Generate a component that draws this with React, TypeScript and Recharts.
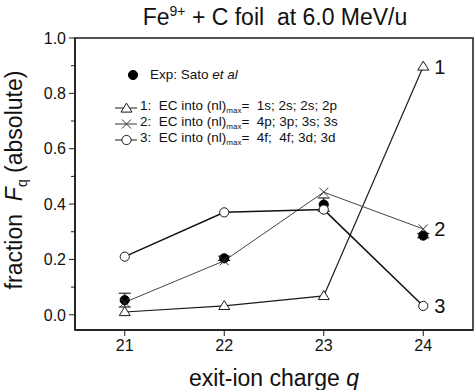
import React from 'react';
import {
  ComposedChart,
  Line,
  Scatter,
  XAxis,
  YAxis,
  ErrorBar,
  ReferenceArea,
  LabelList,
  Legend,
} from 'recharts';

const charges = [21, 22, 23, 24];
const ec1 = [0.01, 0.032, 0.068, 0.897];
const ec2 = [0.045, 0.195, 0.443, 0.31];
const ec3 = [0.21, 0.37, 0.38, 0.032];
const expValues = [0.053, 0.204, 0.398, 0.286];
const expErrors = [0.025, 0.008, 0.024, 0.008];
const xTicks = [21, 22, 23, 24];
const yTicks = [0, 0.1, 0.2, 0.3, 0.4, 0.5, 0.6, 0.7, 0.8, 0.9, 1.0];
const curveLabels = ['1', '2', '3'];
const legendRows = [
  { id: '1', states: '1s; 2s; 2s; 2p' },
  { id: '2', states: '4p; 3p; 3s; 3s' },
  { id: '3', states: '4f;  4f; 3d; 3d' },
];

const data = charges.map((q, i) => ({
  q,
  ec1: ec1[i],
  ec2: ec2[i],
  ec3: ec3[i],
  exp: expValues[i],
  err: expErrors[i],
}));

const FONT = '"Liberation Sans", Arial, Helvetica, sans-serif';
const INK = '#1a1a1a';

const Triangle = ({ cx, cy }: any) => {
  if (cx == null || cy == null) return null;
  const h = 9;
  const w = 11;
  return (
    <polygon
      points={`${cx},${cy - h * 0.6} ${cx - w / 2},${cy + h * 0.4} ${cx + w / 2},${cy + h * 0.4}`}
      fill="#fff"
      stroke={INK}
      strokeWidth={1}
    />
  );
};

const Cross = ({ cx, cy }: any) => {
  if (cx == null || cy == null) return null;
  const s = 4.5;
  return (
    <g stroke="#333" strokeWidth={1}>
      <line x1={cx - s} y1={cy - s} x2={cx + s} y2={cy + s} />
      <line x1={cx - s} y1={cy + s} x2={cx + s} y2={cy - s} />
    </g>
  );
};

const OpenCircle = ({ cx, cy }: any) => {
  if (cx == null || cy == null) return null;
  return <circle cx={cx} cy={cy} r={4.6} fill="#fff" stroke={INK} strokeWidth={1} />;
};

const FilledCircle = ({ cx, cy }: any) => {
  if (cx == null || cy == null) return null;
  return <circle cx={cx} cy={cy} r={4.6} fill="#000" stroke="#000" />;
};

const YTick = ({ x, y, payload }: any) => {
  const v = payload.value;
  const major = Math.round(v * 10) % 2 === 0;
  return (
    <g>
      <line x1={x - (major ? 6 : 4)} x2={x} y1={y} y2={y} stroke={INK} strokeWidth={1} />
      {major && (
        <text
          x={x - 9}
          y={y}
          dy="0.36em"
          textAnchor="end"
          fontSize={16}
          fontFamily={FONT}
          fill="#111"
        >
          {v.toFixed(1)}
        </text>
      )}
    </g>
  );
};

const makeEndLabel = (label: string) => (props: any) => {
  const { x, y, index } = props;
  if (index !== charges.length - 1) return null;
  return (
    <text x={x + 11} y={y} dy="0.36em" fontSize={20} fontFamily={FONT} fill="#111">
      {label}
    </text>
  );
};

const LegendSymbol = ({ kind }: { kind: string }) => (
  <svg width={26} height={14} style={{ display: 'block', flex: 'none' }}>
    <line x1={1} x2={23} y1={7} y2={7} stroke={kind === '2' ? '#333' : INK} strokeWidth={1} />
    {kind === '1' && <Triangle cx={12.5} cy={7.5} />}
    {kind === '2' && <Cross cx={12.5} cy={7} />}
    {kind === '3' && <OpenCircle cx={12.5} cy={7} />}
  </svg>
);

const LegendBox = () => (
  <div style={{ fontFamily: FONT, fontSize: 13.5, color: '#111', lineHeight: '16px' }}>
    <div style={{ display: 'flex', alignItems: 'center', height: 18, marginBottom: 16 }}>
      <svg width={36} height={14} style={{ display: 'block', flex: 'none' }}>
        <FilledCircle cx={19} cy={7} />
      </svg>
      <span>
        Exp: Sato <i>et al</i>
      </span>
    </div>
    {legendRows.map((r) => (
      <div key={r.id} style={{ display: 'flex', alignItems: 'center', height: 16 }}>
        <LegendSymbol kind={r.id} />
        <span style={{ whiteSpace: 'pre' }}>
          {`${r.id}:  EC into (nl)`}
          <sub style={{ fontSize: 8, verticalAlign: '-3px' }}>max</sub>
          {`=  ${r.states}`}
        </span>
      </div>
    ))}
  </div>
);

export default function App() {
  return (
    <div style={{ position: 'absolute', left: 0, top: 0, width: 474, height: 390, background: '#fff' }}>
      <ComposedChart
        width={474}
        height={390}
        data={data}
        margin={{ top: 38, right: 1, left: 0, bottom: 0 }}
      >
        <XAxis
          dataKey="q"
          type="number"
          domain={[20.5, 24.5]}
          ticks={xTicks}
          allowDataOverflow
          height={60}
          tickSize={6}
          tickMargin={4}
          axisLine={{ stroke: INK, strokeWidth: 1.5 }}
          tickLine={{ stroke: INK }}
          tick={{ fontSize: 16, fontFamily: FONT, fill: '#111' }}
        />
        <YAxis
          type="number"
          domain={[-0.055, 1.0]}
          ticks={yTicks}
          allowDataOverflow
          width={75}
          tickSize={0}
          tickMargin={0}
          tickLine={false}
          axisLine={{ stroke: INK, strokeWidth: 1.5 }}
          tick={<YTick />}
          interval={0}
        />
        <ReferenceArea
          x1={20.5}
          x2={24.5}
          y1={-0.055}
          y2={1.0}
          fill="none"
          fillOpacity={0}
          stroke={INK}
          strokeWidth={1.5}
          ifOverflow="visible"
        />
        <Legend
          layout="horizontal"
          verticalAlign="middle"
          align="center"
          content={<LegendBox />}
          wrapperStyle={{ position: 'absolute', left: 114, top: 66, width: 240, height: 150 }}
        />
        <Line
          dataKey="ec1"
          type="linear"
          stroke={INK}
          strokeWidth={1.2}
          dot={<Triangle />}
          activeDot={false}
          isAnimationActive={false}
        >
          <LabelList dataKey="ec1" content={makeEndLabel(curveLabels[0])} />
        </Line>
        <Line
          dataKey="ec2"
          type="linear"
          stroke="#444"
          strokeWidth={1}
          dot={<Cross />}
          activeDot={false}
          isAnimationActive={false}
        >
          <LabelList dataKey="ec2" content={makeEndLabel(curveLabels[1])} />
        </Line>
        <Line
          dataKey="ec3"
          type="linear"
          stroke="#111"
          strokeWidth={1.5}
          dot={<OpenCircle />}
          activeDot={false}
          isAnimationActive={false}
        >
          <LabelList dataKey="ec3" content={makeEndLabel(curveLabels[2])} />
        </Line>
        <Scatter dataKey="exp" shape={<FilledCircle />} isAnimationActive={false}>
          <ErrorBar dataKey="err" direction="y" width={6} stroke="#000" strokeWidth={1} />
        </Scatter>
      </ComposedChart>
      <svg
        width={474}
        height={390}
        style={{ position: 'absolute', left: 0, top: 0, pointerEvents: 'none' }}
      >
        <text
          x={275}
          y={25}
          textAnchor="middle"
          fontSize={23}
          fontFamily={FONT}
          fill="#111"
          style={{ whiteSpace: 'pre' }}
        >
          Fe
          <tspan fontSize={14} dy={-9}>9+</tspan>
          <tspan dy={9}>{' + C foil  at 6.0 MeV/u'}</tspan>
        </text>
        <text
          x={274}
          y={386}
          textAnchor="middle"
          fontSize={23}
          fontFamily={FONT}
          fill="#111"
          style={{ whiteSpace: 'pre' }}
        >
          exit-ion charge <tspan fontStyle="italic">q</tspan>
        </text>
        <text
          transform="translate(22,180) rotate(-90)"
          textAnchor="middle"
          fontSize={23}
          fontFamily={FONT}
          fill="#111"
          style={{ whiteSpace: 'pre' }}
        >
          {'fraction  '}
          <tspan fontStyle="italic">F</tspan>
          <tspan fontSize={14} dy={5}>q</tspan>
          <tspan dy={-5}>{' (absolute)'}</tspan>
        </text>
      </svg>
    </div>
  );
}
